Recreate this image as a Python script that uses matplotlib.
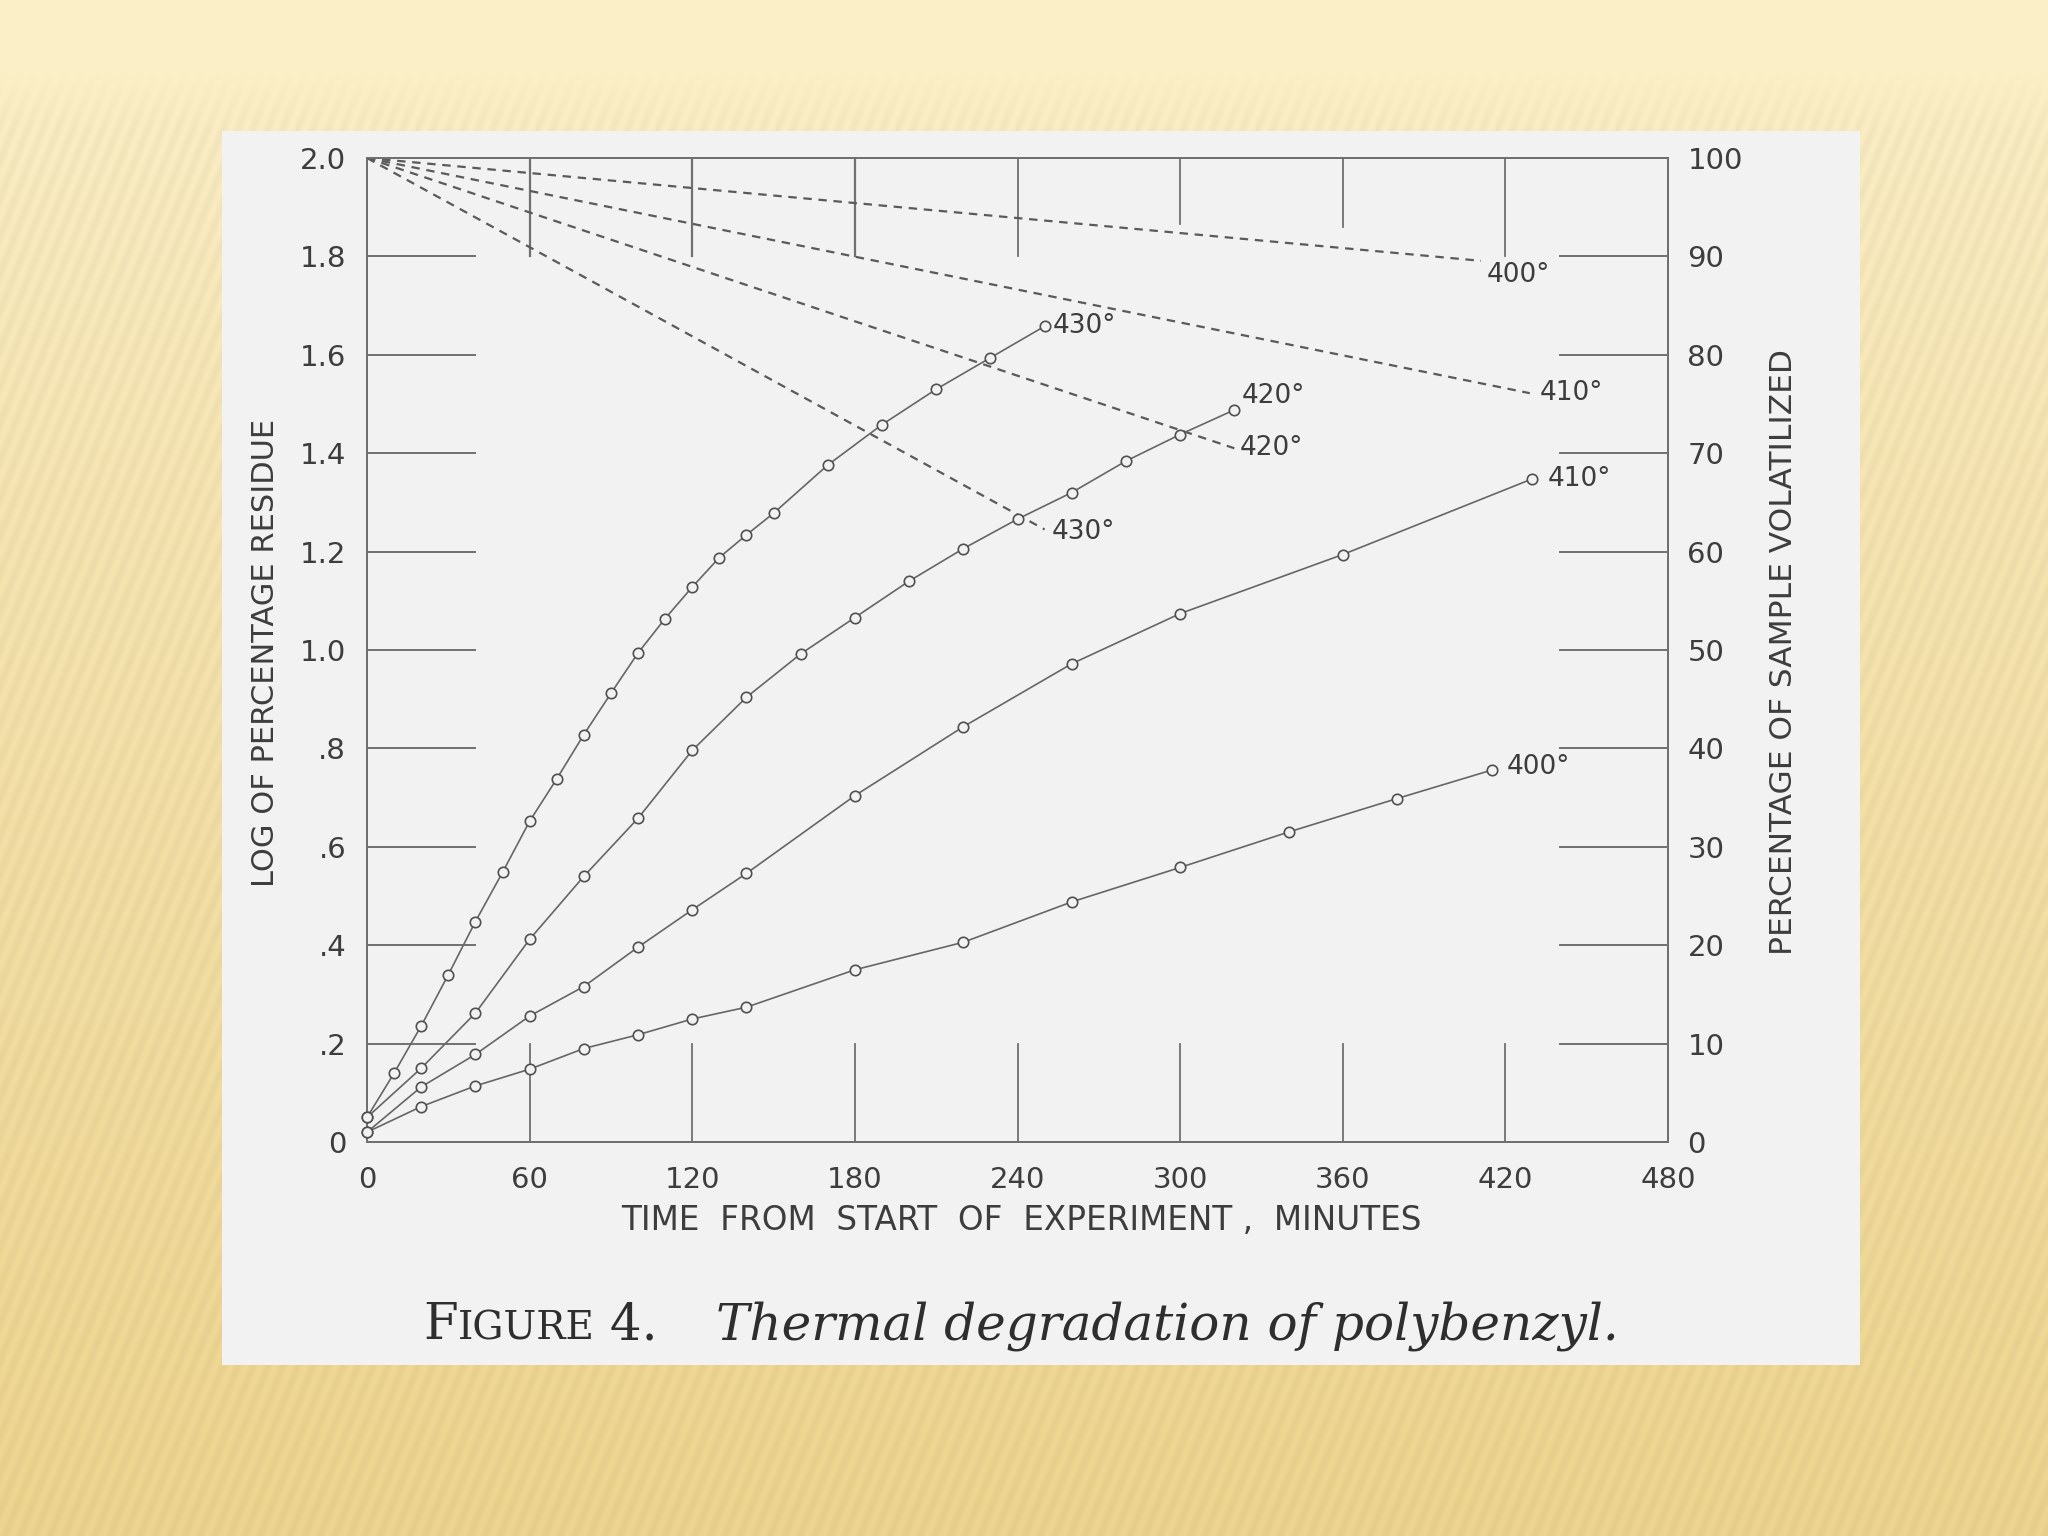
import numpy as np
import matplotlib
matplotlib.use('Agg')
import matplotlib.pyplot as plt
from matplotlib.patches import Rectangle
from matplotlib.offsetbox import TextArea, HPacker, AnchoredOffsetbox

# solid curves: percentage of sample volatilized (right axis)
t_430 = [0, 10, 20, 30, 40, 50, 60, 70, 80, 90, 100, 110, 120, 130, 140, 150, 170, 190, 210, 230, 250]
v_430 = [2.5, 7.0, 11.8, 17.0, 22.4, 27.4, 32.6, 36.9, 41.4, 45.6, 49.7, 53.2, 56.4, 59.4, 61.7, 63.9,
         68.8, 72.9, 76.5, 79.7, 82.9]
t_420 = [0, 20, 40, 60, 80, 100, 120, 140, 160, 180, 200, 220, 240, 260, 280, 300, 320]
v_420 = [2.5, 7.5, 13.1, 20.6, 27.0, 32.9, 39.8, 45.2, 49.6, 53.3, 57.0, 60.3, 63.3, 66.0, 69.2, 71.9, 74.4]
t_410 = [0, 20, 40, 60, 80, 100, 120, 140, 180, 220, 260, 300, 360, 430]
v_410 = [1.0, 5.6, 8.9, 12.8, 15.8, 19.8, 23.6, 27.3, 35.2, 42.2, 48.6, 53.7, 59.7, 67.4]
t_400 = [0, 20, 40, 60, 80, 100, 120, 140, 180, 220, 260, 300, 340, 380, 415]
v_400 = [1.0, 3.6, 5.7, 7.4, 9.5, 10.9, 12.5, 13.7, 17.5, 20.3, 24.4, 27.9, 31.5, 34.9, 37.8]

# dashed lines: log of percentage residue (left axis)
dash_t_400 = [0, 411]
dash_y_400 = [2.0, 1.791]
dash_t_410 = [0, 429]
dash_y_410 = [2.0, 1.522]
dash_t_420 = [0, 320]
dash_y_420 = [2.0, 1.410]
dash_t_430 = [0, 250]
dash_y_430 = [2.0, 1.245]

x_ticks = [0, 60, 120, 180, 240, 300, 360, 420, 480]
left_ticks = [0, 0.2, 0.4, 0.6, 0.8, 1.0, 1.2, 1.4, 1.6, 1.8, 2.0]
left_labels = ['0', '.2', '.4', '.6', '.8', '1.0', '1.2', '1.4', '1.6', '1.8', '2.0']
right_ticks = [0, 10, 20, 30, 40, 50, 60, 70, 80, 90, 100]

ink = '#3d3d3d'
line_c = '#666666'
frame_c = '#707070'
panel_c = '#f2f2f3'

fig = plt.figure(figsize=(20.48, 15.36), dpi=100)

# slide background
H, W = 1536, 2048
yy, xx = np.mgrid[0:H, 0:W].astype(float)
c_top = np.array([0.988, 0.941, 0.785])
c_bot = np.array([0.935, 0.835, 0.560])
frac = np.clip((yy - 60) / (H - 60), 0, 1) ** 0.8
base = c_top[None, None, :] + (c_bot - c_top)[None, None, :] * frac[..., None]
stripes = 0.5 + 0.5 * np.sin(2 * np.pi * (xx + 0.4 * yy) / 15.0)
fade = np.clip((yy - 70) / 60.0, 0, 1)
bg = base * (1 - 0.035 * (stripes * fade)[..., None])
bax = fig.add_axes([0, 0, 1, 1], zorder=-10)
bax.imshow(bg, aspect='auto', interpolation='bilinear')
bax.axis('off')

# scanned figure panel
fig.patches.append(Rectangle((222 / W, 1 - 1365 / H), (1860 - 222) / W, (1365 - 131) / H,
                             transform=fig.transFigure, facecolor=panel_c, edgecolor='none', zorder=-5))

ax = fig.add_axes([367 / W, 1 - 1142 / H, (1668 - 367) / W, (1142 - 158) / H])
ax.set_facecolor(panel_c)
ax.set_xlim(0, 480)
ax.set_ylim(0, 2.0)
for s in ax.spines.values():
    s.set_color(frame_c)
    s.set_linewidth(1.4)

ax2 = ax.twinx()
ax2.set_ylim(0, 100)
for s in ax2.spines.values():
    s.set_color(frame_c)
    s.set_linewidth(1.4)

# partial grid strokes of the original drawing
for y in left_ticks[1:-1]:
    ax.plot([0, 40], [y, y], color=frame_c, lw=1.4, zorder=1)
    ax.plot([440, 480], [y, y], color=frame_c, lw=1.4, zorder=1)
top_stub = [0.2, 0.2, 0.2, 0.2, 0.135, 0.14, 0.2]
for x, ln in zip(x_ticks[1:-1], top_stub):
    ax.plot([x, x], [2.0 - ln, 2.0], color=frame_c, lw=1.6 if x <= 180 else 1.3, zorder=1)
    ax.plot([x, x], [0, 0.2], color=frame_c, lw=1.3, zorder=1)

# dashed log-residue lines
dash_kw = dict(color='#5a5a5a', lw=1.6, linestyle=(0, (3.8, 3.0)), zorder=2)
ax.plot(dash_t_400, dash_y_400, **dash_kw)
ax.plot(dash_t_410, dash_y_410, **dash_kw)
ax.plot(dash_t_420, dash_y_420, **dash_kw)
ax.plot(dash_t_430, dash_y_430, **dash_kw)

# solid volatilized curves
mk = dict(color=line_c, lw=1.2, marker='o', ms=7.5, mfc=panel_c, mec='#505050', mew=1.2,
          clip_on=False, zorder=3)
ax2.plot(t_430, v_430, **mk)
ax2.plot(t_420, v_420, **mk)
ax2.plot(t_410, v_410, **mk)
ax2.plot(t_400, v_400, **mk)

lab = dict(fontsize=19, color=ink, va='center', ha='left', textcoords='offset points')
ax2.annotate('430°', (t_430[-1], v_430[-1]), xytext=(6, 0), **lab)
ax2.annotate('420°', (t_420[-1], v_420[-1]), xytext=(5, 10), **lab)
ax2.annotate('410°', (t_410[-1], v_410[-1]), xytext=(11, 0), **lab)
ax2.annotate('400°', (t_400[-1], v_400[-1]), xytext=(11, 2), **lab)
ax.annotate('400°', (dash_t_400[-1], dash_y_400[-1]), xytext=(4, -10), **lab)
ax.annotate('410°', (dash_t_410[-1], dash_y_410[-1]), xytext=(7, 0), **lab)
ax.annotate('420°', (dash_t_420[-1], dash_y_420[-1]), xytext=(4, 0), **lab)
ax.annotate('430°', (dash_t_430[-1], dash_y_430[-1]), xytext=(5, -2), **lab)

ax.set_xticks(x_ticks)
ax.set_xticklabels([str(v) for v in x_ticks])
ax.set_yticks(left_ticks)
ax.set_yticklabels(left_labels)
ax2.set_yticks(right_ticks)
ax2.set_yticklabels([str(v) for v in right_ticks])
ax.tick_params(axis='x', length=0, pad=17, labelsize=21, colors=ink)
ax.tick_params(axis='y', length=0, pad=15, labelsize=21, colors=ink)
ax2.tick_params(axis='y', length=0, pad=14, labelsize=21, colors=ink)

fig.text(265 / W, 1 - 653 / H, 'LOG OF PERCENTAGE RESIDUE', rotation=90, ha='center', va='center',
         fontsize=22, color=ink)
fig.text(1784 / W, 1 - 652 / H, 'PERCENTAGE OF SAMPLE VOLATILIZED', rotation=90, ha='center',
         va='center', fontsize=22.5, color=ink)
fig.text(1021 / W, 1 - 1221 / H, 'TIME  FROM  START  OF  EXPERIMENT ,  MINUTES', ha='center',
         va='center', fontsize=23.5, color=ink)

# caption with small caps
cap_kw = dict(family='DejaVu Serif', color='#2e2e2e')
part_f = TextArea('F', textprops=dict(fontsize=36, **cap_kw))
part_igure = TextArea('IGURE', textprops=dict(fontsize=28, **cap_kw))
part_num = TextArea(' 4.', textprops=dict(fontsize=36, **cap_kw))
part_title = TextArea('Thermal degradation of polybenzyl.',
                      textprops=dict(fontsize=36, style='italic', **cap_kw))
head = HPacker(children=[part_f, part_igure, part_num], align='baseline', pad=0, sep=0)
caption = HPacker(children=[head, part_title], align='baseline', pad=0, sep=42)
anch = AnchoredOffsetbox(loc='center', child=caption, bbox_to_anchor=(1021 / W, 1 - 1326 / H),
                         bbox_transform=fig.transFigure, frameon=False, pad=0, borderpad=0)
fig.add_artist(anch)

fig.savefig('out.png', dpi=100)
